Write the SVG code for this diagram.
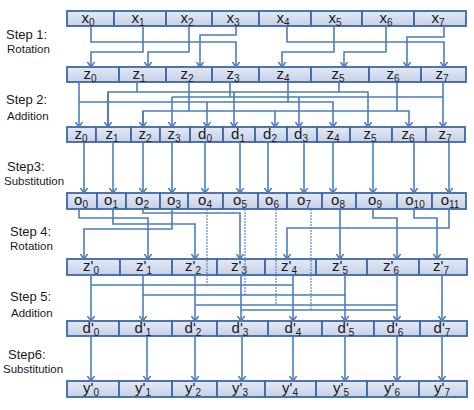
<svg xmlns="http://www.w3.org/2000/svg" width="474" height="410" viewBox="0 0 474 410">
<defs>
<linearGradient id="cg" x1="0" y1="0" x2="0" y2="1">
<stop offset="0" stop-color="#e4e9f4"/>
<stop offset="1" stop-color="#c6d0e6"/>
</linearGradient>
<marker id="ar" viewBox="0 0 10 10" refX="10" refY="5" markerWidth="5" markerHeight="8" markerUnits="userSpaceOnUse" orient="auto" preserveAspectRatio="none">
<path d="M0,0.5 L10,5 L0,9.5" fill="none" stroke="#4a7dbf" stroke-width="2.2"/>
</marker>
</defs>
<style>
.cell{fill:url(#cg);stroke:#3d67a6;stroke-width:1.8}
.t{font-family:"Liberation Sans",Arial,sans-serif;font-size:15px;fill:#1a1a1a;text-anchor:middle}
.s{font-size:10px}
.lab{font-family:"Liberation Sans",Arial,sans-serif;fill:#1a1a1a}
.l1{font-size:13px}
.l2{font-size:11.5px}
.c{fill:none;stroke:#4a7dbf;stroke-width:1.6}
.a{marker-end:url(#ar)}
.th{fill:none;stroke:#4a7dbf;stroke-width:1.1;stroke-dasharray:2 1}
</style>
<rect width="474" height="410" fill="#ffffff"/>
<g id="labels">
<text class="lab l1" x="6" y="39">Step 1:</text>
<text class="lab l2" x="7" y="53">Rotation</text>
<text class="lab l1" x="6" y="104">Step 2:</text>
<text class="lab l2" x="7" y="120">Addition</text>
<text class="lab l1" x="7" y="171">Step3:</text>
<text class="lab l2" x="4" y="185">Substitution</text>
<text class="lab l1" x="10" y="236">Step 4:</text>
<text class="lab l2" x="10" y="250">Rotation</text>
<text class="lab l1" x="10" y="301">Step 5:</text>
<text class="lab l2" x="11" y="317">Addition</text>
<text class="lab l1" x="8" y="359">Step6:</text>
<text class="lab l2" x="3" y="373">Substitution</text>
</g>
<g id="row-x">
<g id="x0"><rect class="cell" x="67" y="11" width="47" height="15"/><text class="t" x="88" y="23">x<tspan class="s" dy="3">0</tspan></text></g>
<g id="x1"><rect class="cell" x="114" y="11" width="52" height="15"/><text class="t" x="138" y="23">x<tspan class="s" dy="3">1</tspan></text></g>
<g id="x2"><rect class="cell" x="166" y="11" width="46" height="15"/><text class="t" x="187" y="23">x<tspan class="s" dy="3">2</tspan></text></g>
<g id="x3"><rect class="cell" x="212" y="11" width="47" height="15"/><text class="t" x="233" y="23">x<tspan class="s" dy="3">3</tspan></text></g>
<g id="x4"><rect class="cell" x="259" y="11" width="52" height="15"/><text class="t" x="283" y="23">x<tspan class="s" dy="3">4</tspan></text></g>
<g id="x5"><rect class="cell" x="311" y="11" width="51" height="15"/><text class="t" x="335" y="23">x<tspan class="s" dy="3">5</tspan></text></g>
<g id="x6"><rect class="cell" x="362" y="11" width="52" height="15"/><text class="t" x="386" y="23">x<tspan class="s" dy="3">6</tspan></text></g>
<g id="x7"><rect class="cell" x="414" y="11" width="52" height="15"/><text class="t" x="438" y="23">x<tspan class="s" dy="3">7</tspan></text></g>
</g>
<g id="row-z">
<g id="z0"><rect class="cell" x="67" y="67" width="52" height="15"/><text class="t" x="90" y="79">z<tspan class="s" dy="3">0</tspan></text></g>
<g id="z1"><rect class="cell" x="119" y="67" width="47" height="15"/><text class="t" x="139" y="79">z<tspan class="s" dy="3">1</tspan></text></g>
<g id="z2"><rect class="cell" x="166" y="67" width="46" height="15"/><text class="t" x="187" y="79">z<tspan class="s" dy="3">2</tspan></text></g>
<g id="z3"><rect class="cell" x="212" y="67" width="47" height="15"/><text class="t" x="233" y="79">z<tspan class="s" dy="3">3</tspan></text></g>
<g id="z4"><rect class="cell" x="259" y="67" width="52" height="15"/><text class="t" x="283" y="79">z<tspan class="s" dy="3">4</tspan></text></g>
<g id="z5"><rect class="cell" x="311" y="67" width="58" height="15"/><text class="t" x="338" y="79">z<tspan class="s" dy="3">5</tspan></text></g>
<g id="z6"><rect class="cell" x="369" y="67" width="52" height="15"/><text class="t" x="393" y="79">z<tspan class="s" dy="3">6</tspan></text></g>
<g id="z7"><rect class="cell" x="421" y="67" width="45" height="15"/><text class="t" x="442" y="79">z<tspan class="s" dy="3">7</tspan></text></g>
</g>
<g id="row-zd">
<g id="r3-z0"><rect class="cell" x="67" y="127" width="29" height="15"/><text class="t" x="81" y="139">z<tspan class="s" dy="3">0</tspan></text></g>
<g id="r3-z1"><rect class="cell" x="96" y="127" width="35" height="15"/><text class="t" x="112" y="139">z<tspan class="s" dy="3">1</tspan></text></g>
<g id="r3-z2"><rect class="cell" x="131" y="127" width="29" height="15"/><text class="t" x="145" y="139">z<tspan class="s" dy="3">2</tspan></text></g>
<g id="r3-z3"><rect class="cell" x="160" y="127" width="30" height="15"/><text class="t" x="174" y="139">z<tspan class="s" dy="3">3</tspan></text></g>
<g id="d0"><rect class="cell" x="190" y="127" width="33" height="15"/><text class="t" x="205" y="139">d<tspan class="s" dy="3">0</tspan></text></g>
<g id="d1"><rect class="cell" x="223" y="127" width="32" height="15"/><text class="t" x="238" y="139">d<tspan class="s" dy="3">1</tspan></text></g>
<g id="d2"><rect class="cell" x="255" y="127" width="32" height="15"/><text class="t" x="270" y="139">d<tspan class="s" dy="3">2</tspan></text></g>
<g id="d3"><rect class="cell" x="287" y="127" width="30" height="15"/><text class="t" x="301" y="139">d<tspan class="s" dy="3">3</tspan></text></g>
<g id="r3-z4"><rect class="cell" x="317" y="127" width="33" height="15"/><text class="t" x="333" y="139">z<tspan class="s" dy="3">4</tspan></text></g>
<g id="r3-z5"><rect class="cell" x="350" y="127" width="42" height="15"/><text class="t" x="370" y="139">z<tspan class="s" dy="3">5</tspan></text></g>
<g id="r3-z6"><rect class="cell" x="392" y="127" width="34" height="15"/><text class="t" x="408" y="139">z<tspan class="s" dy="3">6</tspan></text></g>
<g id="r3-z7"><rect class="cell" x="426" y="127" width="39" height="15"/><text class="t" x="445" y="139">z<tspan class="s" dy="3">7</tspan></text></g>
</g>
<g id="row-o">
<g id="o0"><rect class="cell" x="67" y="193" width="30" height="16"/><text class="t" x="81" y="205">o<tspan class="s" dy="3">0</tspan></text></g>
<g id="o1"><rect class="cell" x="97" y="193" width="29" height="16"/><text class="t" x="111" y="205">o<tspan class="s" dy="3">1</tspan></text></g>
<g id="o2"><rect class="cell" x="126" y="193" width="34" height="16"/><text class="t" x="142" y="205">o<tspan class="s" dy="3">2</tspan></text></g>
<g id="o3"><rect class="cell" x="160" y="193" width="28" height="16"/><text class="t" x="174" y="205">o<tspan class="s" dy="3">3</tspan></text></g>
<g id="o4"><rect class="cell" x="188" y="193" width="35" height="16"/><text class="t" x="205" y="205">o<tspan class="s" dy="3">4</tspan></text></g>
<g id="o5"><rect class="cell" x="223" y="193" width="35" height="16"/><text class="t" x="240" y="205">o<tspan class="s" dy="3">5</tspan></text></g>
<g id="o6"><rect class="cell" x="258" y="193" width="29" height="16"/><text class="t" x="272" y="205">o<tspan class="s" dy="3">6</tspan></text></g>
<g id="o7"><rect class="cell" x="287" y="193" width="35" height="16"/><text class="t" x="304" y="205">o<tspan class="s" dy="3">7</tspan></text></g>
<g id="o8"><rect class="cell" x="322" y="193" width="34" height="16"/><text class="t" x="338" y="205">o<tspan class="s" dy="3">8</tspan></text></g>
<g id="o9"><rect class="cell" x="356" y="193" width="41" height="16"/><text class="t" x="375" y="205">o<tspan class="s" dy="3">9</tspan></text></g>
<g id="o10"><rect class="cell" x="397" y="193" width="35" height="16"/><text class="t" x="415" y="205">o<tspan class="s" dy="3">10</tspan></text></g>
<g id="o11"><rect class="cell" x="432" y="193" width="34" height="16"/><text class="t" x="450" y="205">o<tspan class="s" dy="3">11</tspan></text></g>
</g>
<g id="row-zp">
<g id="zp0"><rect class="cell" x="67" y="259" width="53" height="16"/><text class="t" x="91" y="271">z'<tspan class="s" dy="3">0</tspan></text></g>
<g id="zp1"><rect class="cell" x="120" y="259" width="52" height="16"/><text class="t" x="144" y="271">z'<tspan class="s" dy="3">1</tspan></text></g>
<g id="zp2"><rect class="cell" x="172" y="259" width="45" height="16"/><text class="t" x="193" y="271">z'<tspan class="s" dy="3">2</tspan></text></g>
<g id="zp3"><rect class="cell" x="217" y="259" width="48" height="16"/><text class="t" x="239" y="271">z'<tspan class="s" dy="3">3</tspan></text></g>
<g id="zp4"><rect class="cell" x="265" y="259" width="51" height="16"/><text class="t" x="289" y="271">z'<tspan class="s" dy="3">4</tspan></text></g>
<g id="zp5"><rect class="cell" x="316" y="259" width="51" height="16"/><text class="t" x="340" y="271">z'<tspan class="s" dy="3">5</tspan></text></g>
<g id="zp6"><rect class="cell" x="367" y="259" width="52" height="16"/><text class="t" x="391" y="271">z'<tspan class="s" dy="3">6</tspan></text></g>
<g id="zp7"><rect class="cell" x="419" y="259" width="48" height="16"/><text class="t" x="441" y="271">z'<tspan class="s" dy="3">7</tspan></text></g>
</g>
<g id="row-dp">
<g id="dp0"><rect class="cell" x="67" y="321" width="52" height="15"/><text class="t" x="91" y="333">d'<tspan class="s" dy="3">0</tspan></text></g>
<g id="dp1"><rect class="cell" x="119" y="321" width="53" height="15"/><text class="t" x="143" y="333">d'<tspan class="s" dy="3">1</tspan></text></g>
<g id="dp2"><rect class="cell" x="172" y="321" width="45" height="15"/><text class="t" x="193" y="333">d'<tspan class="s" dy="3">2</tspan></text></g>
<g id="dp3"><rect class="cell" x="217" y="321" width="51" height="15"/><text class="t" x="240" y="333">d'<tspan class="s" dy="3">3</tspan></text></g>
<g id="dp4"><rect class="cell" x="268" y="321" width="54" height="15"/><text class="t" x="293" y="333">d'<tspan class="s" dy="3">4</tspan></text></g>
<g id="dp5"><rect class="cell" x="322" y="321" width="52" height="15"/><text class="t" x="346" y="333">d'<tspan class="s" dy="3">5</tspan></text></g>
<g id="dp6"><rect class="cell" x="374" y="321" width="46" height="15"/><text class="t" x="395" y="333">d'<tspan class="s" dy="3">6</tspan></text></g>
<g id="dp7"><rect class="cell" x="420" y="321" width="47" height="15"/><text class="t" x="442" y="333">d'<tspan class="s" dy="3">7</tspan></text></g>
</g>
<g id="row-yp">
<g id="yp0"><rect class="cell" x="67" y="381" width="52" height="16"/><text class="t" x="91" y="393">y'<tspan class="s" dy="3">0</tspan></text></g>
<g id="yp1"><rect class="cell" x="119" y="381" width="53" height="16"/><text class="t" x="143" y="393">y'<tspan class="s" dy="3">1</tspan></text></g>
<g id="yp2"><rect class="cell" x="172" y="381" width="45" height="16"/><text class="t" x="193" y="393">y'<tspan class="s" dy="3">2</tspan></text></g>
<g id="yp3"><rect class="cell" x="217" y="381" width="48" height="16"/><text class="t" x="240" y="393">y'<tspan class="s" dy="3">3</tspan></text></g>
<g id="yp4"><rect class="cell" x="265" y="381" width="51" height="16"/><text class="t" x="290" y="393">y'<tspan class="s" dy="3">4</tspan></text></g>
<g id="yp5"><rect class="cell" x="316" y="381" width="51" height="16"/><text class="t" x="341" y="393">y'<tspan class="s" dy="3">5</tspan></text></g>
<g id="yp6"><rect class="cell" x="367" y="381" width="52" height="16"/><text class="t" x="392" y="393">y'<tspan class="s" dy="3">6</tspan></text></g>
<g id="yp7"><rect class="cell" x="419" y="381" width="48" height="16"/><text class="t" x="442" y="393">y'<tspan class="s" dy="3">7</tspan></text></g>
</g>
<g id="connectors">
<path class="c a" d="M143 26 V52 H91 V67"/>
<path class="c a" d="M189 26 V52 H148 V67"/>
<path class="c a" d="M236 26 V35 H200 V67"/>
<path class="c a" d="M91 26 V42 H236 V67"/>
<path class="c a" d="M334 26 V52 H282 V67"/>
<path class="c a" d="M386 26 V52 H344 V67"/>
<path class="c a" d="M444 26 V37 H407 V67"/>
<path class="c a" d="M287 26 V42 H444 V67"/>
<path class="c a" d="M79 82 V127"/>
<path class="c" d="M288 82 V102"/>
<path class="c a" d="M79 102 H333 V127"/>
<path class="c a" d="M207 102 V127"/>
<path class="c" d="M137 82 V92"/>
<path class="c" d="M339 82 V92"/>
<path class="c a" d="M108 127 V92 H368 V127"/>
<path class="c a" d="M108 92 V127"/>
<path class="c a" d="M234 92 V127"/>
<path class="c" d="M230 82 V97"/>
<path class="c" d="M172 97 H443"/>
<path class="c a" d="M172 97 V127"/>
<path class="c a" d="M299 97 V127"/>
<path class="c a" d="M443 82 V127"/>
<path class="c" d="M189 82 V111"/>
<path class="c" d="M397 82 V111"/>
<path class="c a" d="M143 127 V111 H409 V127"/>
<path class="c a" d="M143 111 V127"/>
<path class="c a" d="M275 111 V127"/>
<path class="c a" d="M84 142 V193"/>
<path class="c a" d="M113 142 V193"/>
<path class="c a" d="M143 142 V193"/>
<path class="c a" d="M172 142 V193"/>
<path class="c a" d="M205 142 V193"/>
<path class="c a" d="M240 142 V193"/>
<path class="c a" d="M268 142 V193"/>
<path class="c a" d="M304 142 V193"/>
<path class="c a" d="M333 142 V193"/>
<path class="c a" d="M373 142 V193"/>
<path class="c a" d="M414 142 V193"/>
<path class="c a" d="M449 142 V193"/>
<path class="c a" d="M79 209 V218 H148 V259"/>
<path class="c a" d="M113 209 V224 H195 V259"/>
<path class="c a" d="M143 209 V213 H240 V259"/>
<path class="c a" d="M172 209 V229 H84 V259"/>
<path class="c a" d="M340 209 V259"/>
<path class="c a" d="M373 209 V218 H397 V259"/>
<path class="c a" d="M414 209 V218 H437 V259"/>
<path class="c a" d="M449 209 V228 H287 V259"/>
<path class="th" d="M207 209 V285"/>
<path class="th" d="M245 209 V295"/>
<path class="th" d="M276 209 V305"/>
<path class="th" d="M311 209 V310"/>
<path class="c a" d="M91 275 V321"/>
<path class="c a" d="M143 275 V321"/>
<path class="c a" d="M195 275 V321"/>
<path class="c a" d="M241 275 V321"/>
<path class="c a" d="M293 275 V321"/>
<path class="c a" d="M345 275 V321"/>
<path class="c a" d="M397 275 V321"/>
<path class="c a" d="M442 275 V321"/>
<path class="c" d="M91 285 H293"/>
<path class="c" d="M143 295 H345"/>
<path class="c" d="M195 305 H397"/>
<path class="c" d="M241 310 H397"/>
<path class="c a" d="M91 336 V381"/>
<path class="c a" d="M147 336 V381"/>
<path class="c a" d="M195 336 V381"/>
<path class="c a" d="M242 336 V381"/>
<path class="c a" d="M293 336 V381"/>
<path class="c a" d="M345 336 V381"/>
<path class="c a" d="M397 336 V381"/>
<path class="c a" d="M442 336 V381"/>
</g>
</svg>
